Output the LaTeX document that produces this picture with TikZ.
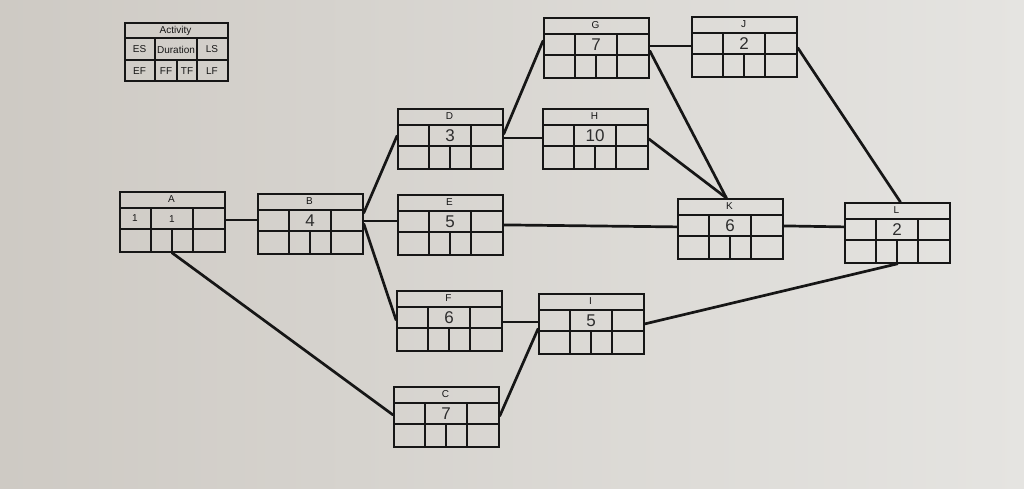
\documentclass[tikz,border=0pt]{standalone}
\usepackage{fontspec}
\setmainfont{Liberation Sans}
\usetikzlibrary{calc}
\definecolor{paperL}{RGB}{206,202,196}
\definecolor{paperR}{RGB}{229,228,225}
\definecolor{ink}{RGB}{22,22,22}
\tikzset{
  actnode/.style={draw=ink, line width=1.8pt, rectangle, inner sep=0pt, anchor=north west,
    minimum width=105pt, minimum height=60pt},
  cellline/.style={draw=ink, line width=1.7pt},
  conn/.style={draw=ink, line width=2.7pt, line cap=round},
  lbl/.style={font=\fontsize{10}{12}\selectfont, text=ink, inner sep=0pt},
  hand/.style={font=\fontsize{17}{19}\selectfont, text=ink!90, inner sep=0pt},
}
\newcommand{\actbox}[5]{% name, x, y, label, duration
  \node[actnode] (#1) at (#2,#3) {};
  \draw[cellline] ($(#1.north west)+(0,17)$) -- ($(#1.north east)+(0,17)$)
    ($(#1.north west)+(0,38)$) -- ($(#1.north east)+(0,38)$)
    ($(#1.north west)+(32,17)$) -- ($(#1.south west)+(32,0)$)
    ($(#1.north west)+(74,17)$) -- ($(#1.south west)+(74,0)$)
    ($(#1.north west)+(53,38)$) -- ($(#1.south west)+(53,0)$);
  \node[lbl] (#1-lbl) at ($(#1.north west)+(52.5,8.5)$) {#4};
  \node[hand] (#1-dur) at ($(#1.north west)+(53,27.5)$) {#5};
}
\begin{document}
\begin{tikzpicture}[x=1pt,y=-1pt]
\useasboundingbox (0,0) rectangle (1024,489);
\shade[left color=paperL, right color=paperR] (0,0) rectangle (1024,489);

% legend
\node[actnode, minimum width=103pt, minimum height=58pt] (legend) at (124,22) {};
\draw[cellline] ($(legend.north west)+(0,16)$) -- ($(legend.north east)+(0,16)$)
  ($(legend.north west)+(0,38)$) -- ($(legend.north east)+(0,38)$)
  ($(legend.north west)+(31,16)$) -- ($(legend.south west)+(31,0)$)
  ($(legend.north west)+(73,16)$) -- ($(legend.south west)+(73,0)$)
  ($(legend.north west)+(53,38)$) -- ($(legend.south west)+(53,0)$);
\node[lbl] (lg-act) at ($(legend.north west)+(51.5,8.5)$) {Activity};
\node[lbl] (lg-es) at ($(legend.north west)+(15.5,27.5)$) {ES};
\node[lbl] (lg-dur) at ($(legend.north west)+(52,27.5)$) {Duration};
\node[lbl] (lg-ls) at ($(legend.north west)+(88,27.5)$) {LS};
\node[lbl] (lg-ef) at ($(legend.north west)+(15.5,49)$) {EF};
\node[lbl] (lg-ff) at ($(legend.north west)+(42,49)$) {FF};
\node[lbl] (lg-tf) at ($(legend.north west)+(63,49)$) {TF};
\node[lbl] (lg-lf) at ($(legend.north west)+(88,49)$) {LF};

% activity boxes
\actbox{A}{119}{191}{A}{}
\node[lbl] (A-es) at ($(A.north west)+(16,27.5)$) {1};
\node[lbl] (A-d) at ($(A.north west)+(53,28)$) {1};
\actbox{B}{257}{193}{B}{4}
\actbox{C}{393}{386}{C}{7}
\actbox{D}{397}{108}{D}{3}
\actbox{E}{397}{194}{E}{5}
\actbox{F}{396}{290}{F}{6}
\actbox{G}{543}{17}{G}{7}
\actbox{H}{542}{108}{H}{10}
\actbox{I}{538}{293}{I}{5}
\actbox{J}{691}{16}{J}{2}
\actbox{K}{677}{198}{K}{6}
\actbox{L}{844}{202}{L}{2}

% connectors
\draw[conn] ($(A.east)+(0,-2)$) -- ($(B.west)+(0,-4)$);
\draw[conn] ($(A.south west)+(53,0)$) -- ($(C.west)+(0,-2)$);
\draw[conn] ($(B.east)+(0,-11)$) -- ($(D.west)+(0,-3)$);
\draw[conn] ($(B.east)+(0,-3)$) -- ($(E.west)+(0,-4)$);
\draw[conn] (B.east) -- ($(F.west)+(0,-1)$);
\draw[conn] ($(D.east)+(0,-5)$) -- ($(G.west)+(0,-7)$);
\draw[conn] ($(D.east)+(0,-1)$) -- ($(H.west)+(0,-1)$);
\draw[conn] ($(G.east)+(0,-2)$) -- ($(J.west)+(0,-1)$);
\draw[conn] ($(G.east)+(0,3)$) -- ($(K.north)+(-4,0)$);
\draw[conn] (H.east) -- ($(K.north)+(-4,0)$);
\draw[conn] ($(J.east)+(0,1)$) -- ($(L.north)+(3,0)$);
\draw[conn] ($(E.east)+(0,0)$) -- ($(K.west)+(0,-2)$);
\draw[conn] ($(K.east)+(0,-3)$) -- ($(L.west)+(0,-6)$);
\draw[conn] ($(F.east)+(0,1)$) -- ($(I.west)+(0,-2)$);
\draw[conn] ($(C.east)+(0,-1)$) -- ($(I.west)+(0,5)$);
\draw[conn] (I.east) -- (L.south);
\end{tikzpicture}
\end{document}
